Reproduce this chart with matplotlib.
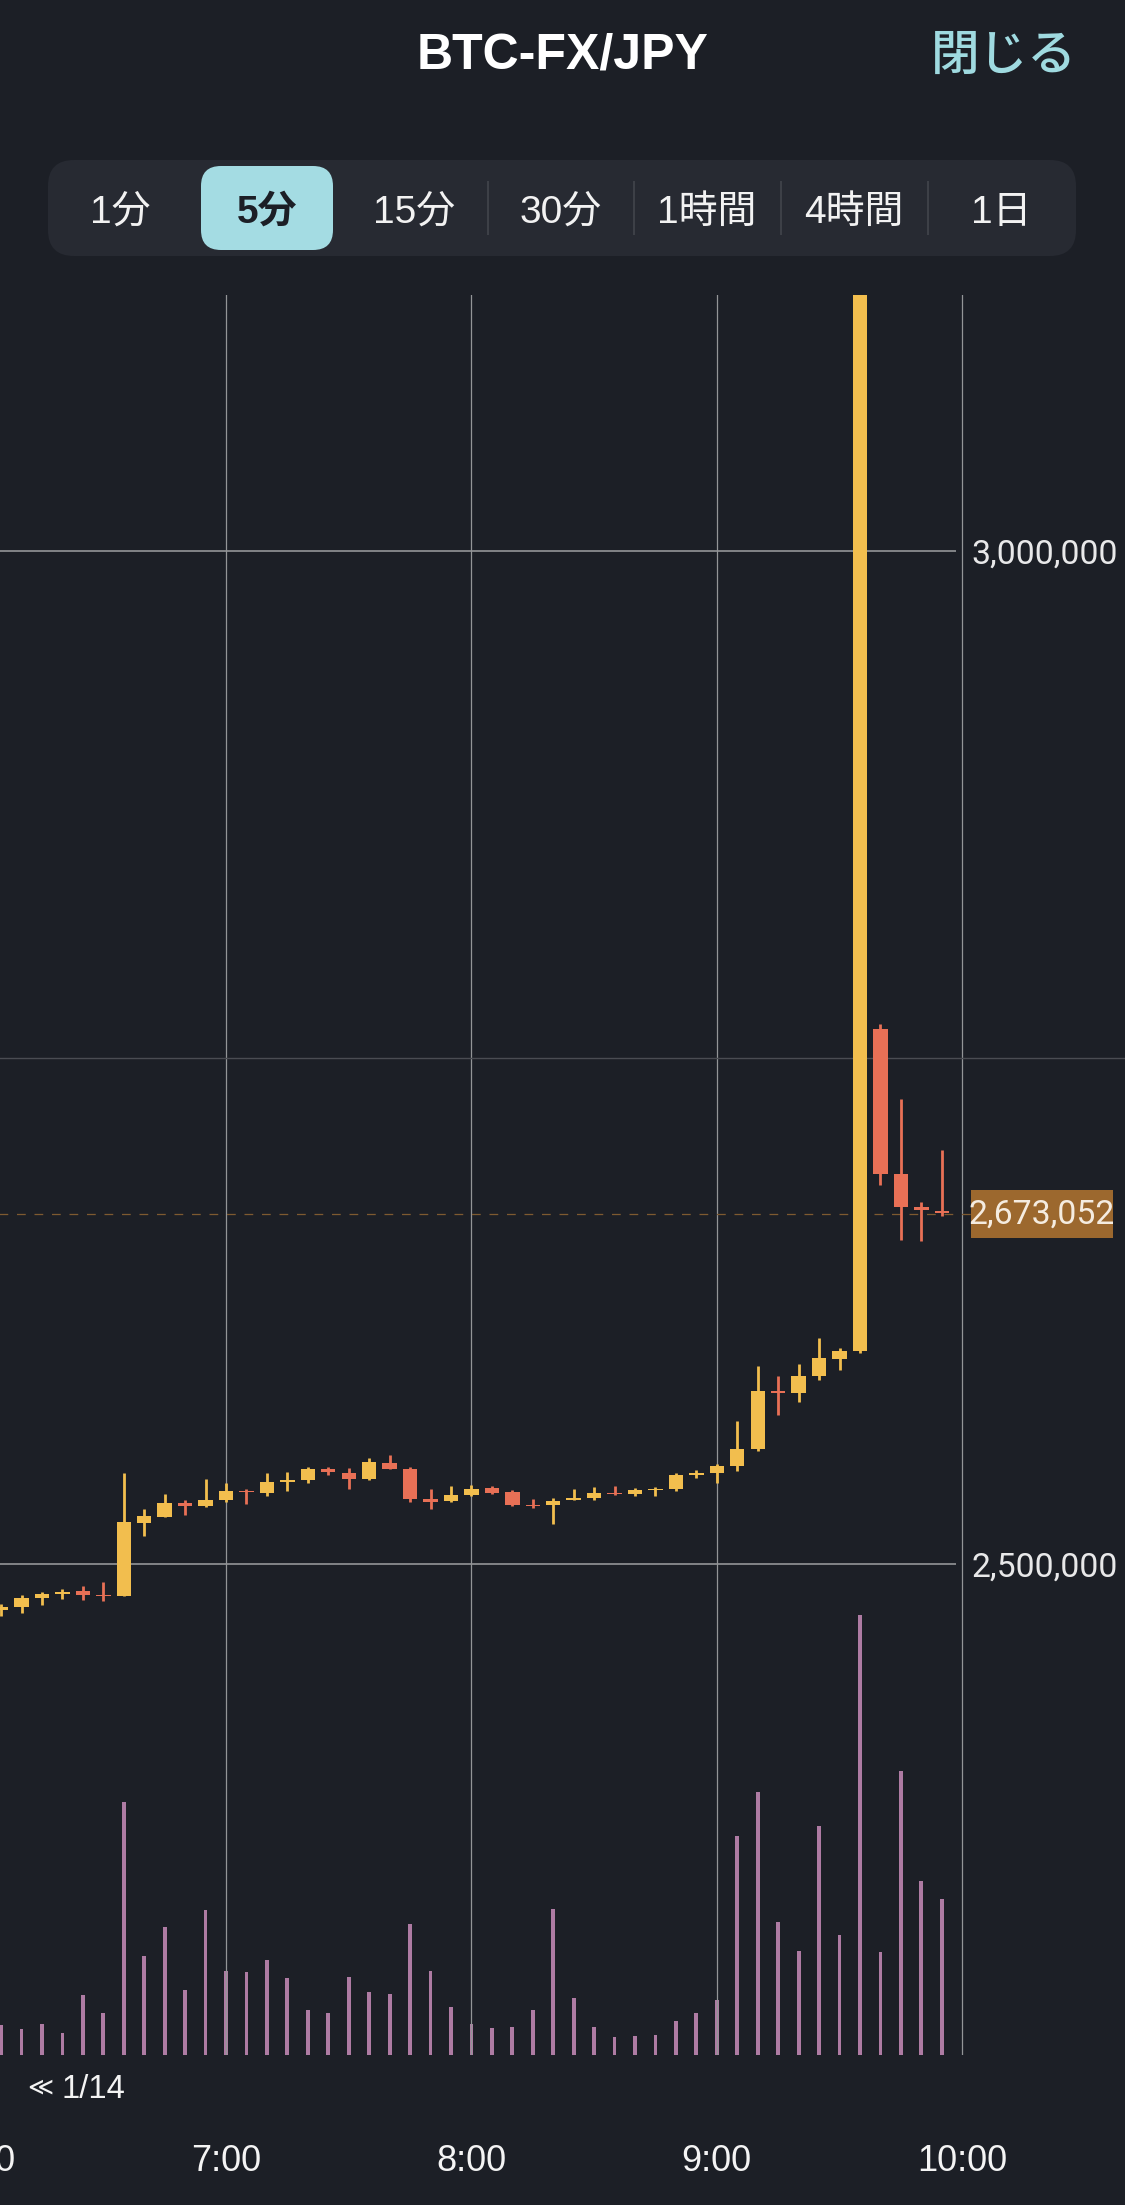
import matplotlib
matplotlib.use("Agg")
import matplotlib.pyplot as plt
from matplotlib.patches import FancyBboxPatch, Rectangle

plt.rcParams['font.family'] = ['Liberation Sans', 'Noto Sans CJK JP', 'DejaVu Sans']

# ---------- data ----------
TITLE = "BTC-FX/JPY"
CLOSE_LABEL = "閉じる"
INTERVALS = ["1分", "5分", "15分", "30分", "1時間", "4時間", "1日"]
SELECTED = 1
DATE_MARK = "≪"
DATE_LABEL = "1/14"
HOUR_TICKS = [360, 420, 480, 540, 600]
HOUR_LABELS = ["6:00", "7:00", "8:00", "9:00", "10:00"]
PRICE_TICKS = [2500000, 3000000]
PRICE_LABELS = ["2,500,000", "3,000,000"]
MID_PRICE = 2750000
LAST_PRICE = 2673052
LAST_LABEL = "2,673,052"

minutes = [365 + 5 * i for i in range(47)]
highs = [2480410, 2484690, 2486010, 2487655, 2489140, 2491110, 2544770, 2527320, 2534570, 2531600,
         2541970, 2539830, 2537030, 2544770, 2545265, 2547730, 2547730, 2547400, 2552510, 2553820,
         2547730, 2536870, 2538350, 2538850, 2538520, 2536710, 2532100, 2532430, 2536870, 2537860,
         2538520, 2537690, 2538020, 2544940, 2546580, 2549380, 2570610, 2597610, 2592670, 2598600,
         2611430, 2606830, 3200000, 2766650, 2729450, 2678920, 2704270]
body_tops = [2478770, 2483375, 2485190, 2486340, 2486500, 2484860, 2520575, 2523700, 2530290, 2530290,
             2531440, 2536050, 2536210, 2540490, 2541480, 2546750, 2546750, 2545100, 2550200, 2549870,
             2546910, 2532260, 2534240, 2537200, 2537360, 2535390, 2529300, 2530950, 2532430, 2534900,
             2534900, 2536540, 2537030, 2544110, 2545100, 2548230, 2556620, 2585590, 2585260, 2592670,
             2601890, 2605010, 3180000, 2764020, 2692420, 2676120, 2674150]
body_bottoms = [2477120, 2478770, 2483375, 2485020, 2484530, 2484360, 2484360, 2520410, 2523370, 2528640,
                2528640, 2531440, 2535390, 2535060, 2540660, 2541480, 2545590, 2541970, 2541970, 2547080,
                2532100, 2530780, 2531110, 2534240, 2535060, 2529300, 2528800, 2529130, 2531770, 2532430,
                2534400, 2534570, 2536710, 2536870, 2543950, 2544940, 2548230, 2556620, 2584600, 2584440,
                2592670, 2601230, 2605010, 2692420, 2676290, 2674640, 2673490]
lows = [2474490, 2475640, 2479750, 2482880, 2482060, 2481565, 2484030, 2513660, 2523040, 2524200,
        2528310, 2530780, 2529630, 2533740, 2536050, 2540160, 2544110, 2537200, 2541640, 2546910,
        2530450, 2527160, 2530450, 2533580, 2534730, 2528640, 2527820, 2519920, 2531440, 2531770,
        2534240, 2533580, 2533740, 2536210, 2542470, 2540160, 2545920, 2555630, 2573740, 2580160,
        2591020, 2595630, 2604190, 2687150, 2660160, 2659500, 2671840]
rising = [1, 1, 1, 1, 0, 0, 1, 1, 1, 0,
          1, 1, 0, 1, 1, 1, 0, 0, 1, 0,
          0, 0, 1, 1, 0, 0, 0, 1, 1, 1,
          0, 1, 1, 1, 1, 1, 1, 1, 0, 1,
          1, 1, 1, 0, 0, 0, 0]
volumes = [29.7, 25.8, 31.3, 22.4, 60.2, 41.7, 252.7, 99.5, 127.7, 65.2,
           145.0, 84.5, 82.6, 95.3, 76.8, 44.8, 41.7, 78.3, 63.3, 61.3,
           130.8, 84.5, 47.8, 31.3, 26.6, 28.2, 45.1, 146.2, 56.7, 27.8,
           18.1, 19.3, 19.7, 34.3, 42.4, 54.8, 218.8, 262.7, 133.5, 103.8,
           229.2, 119.6, 440.2, 103.4, 284.3, 174.4, 156.3]

# ---------- style ----------
BG = "#1C1F26"
UP = "#F2BE4E"
DOWN = "#E87056"
VOL = "#AE7BA3"
GRID = "#939597"
GRID_DIM = "#4A4C52"
W, H = 1125, 2205
PX_PER_MIN = (962.2 - 226.0) / 180.0

fig = plt.figure(figsize=(W / 100, H / 100), dpi=100, facecolor=BG)

# price panel: pixel box x -60..1125, y 295..2055
ax = fig.add_axes([-60 / W, (H - 2055) / H, 1185 / W, 1760 / H], facecolor="none")
ax.set_xlim(420 - (226 + 60) / PX_PER_MIN, 420 + (1125 - 226) / PX_PER_MIN)
ax.set_ylim(2257550, 3126650)
for s in ax.spines.values():
    s.set_visible(False)

vol = ax.twinx()
vol.set_ylim(0, 1760)
vol.axis("off")
vol.patch.set_visible(False)

ax.set_zorder(2)
vol.set_zorder(1)

ax.set_xticks(HOUR_TICKS, HOUR_LABELS)
ax.tick_params(axis="x", length=0, pad=64, labelsize=26, labelcolor="#F4F4F4")
ax.xaxis.grid(True, color=GRID, lw=0.9, zorder=0)
ax.set_axisbelow(True)

ax.yaxis.tick_right()
ax.set_yticks(PRICE_TICKS, PRICE_LABELS)
ax.tick_params(axis="y", length=0, pad=-110.5, labelsize=24.3, labelcolor="white")
for t in ax.get_yticklabels():
    t.set_family("Roboto")
    t.set_fontweight("normal")
    t.set_alpha(0.9)

x_end = 420 + (956 - 226) / PX_PER_MIN
x_left = ax.get_xlim()[0]
ax.hlines(PRICE_TICKS, x_left, x_end, color=GRID, lw=1.2, zorder=1)
ax.hlines(MID_PRICE, x_left, ax.get_xlim()[1], color=GRID_DIM, lw=1.0, zorder=1)
ax.hlines(LAST_PRICE, x_left, 420 + (971 - 226) / PX_PER_MIN, color="#7E5A30", lw=0.9,
          linestyles=(0, (7, 7)), zorder=1)

vol.bar(minutes, volumes, width=3.8 / PX_PER_MIN, color=VOL, lw=0)

colors = [UP if r else DOWN for r in rising]
ax.vlines(minutes, lows, highs, colors=colors, lw=2.0, zorder=3)
ax.bar(minutes, [t - b for t, b in zip(body_tops, body_bottoms)], bottom=body_bottoms,
       width=14.4 / PX_PER_MIN, color=colors, lw=0, zorder=3)

# ---------- screen overlay in pixels ----------
ui = fig.add_axes([0, 0, 1, 1], facecolor="none")
ui.set_xlim(0, W)
ui.set_ylim(H, 0)
ui.axis("off")
ui.set_zorder(5)

ui.text(563, 55, TITLE, ha="center", va="center", fontsize=36, color="white", fontweight="bold")
ui.text(1004, 56, CLOSE_LABEL, ha="center", va="center", fontsize=35, color="#9FDAE0",
        family=['Noto Sans CJK JP'], fontweight="medium")

ui.add_patch(FancyBboxPatch((48, 160), 1028, 96, boxstyle="round,pad=0,rounding_size=26",
                            fc="#272A32", ec="none"))
ui.add_patch(FancyBboxPatch((201, 166), 132, 84, boxstyle="round,pad=0,rounding_size=20",
                            fc="#A4DCE3", ec="none"))
for sx in [488, 634, 781, 928]:
    ui.add_patch(Rectangle((sx - 0.75, 181), 1.5, 54, fc="#3D4047", ec="none"))
for cx, lab, i in zip([120, 267, 414, 561, 707, 854, 1001], INTERVALS, range(7)):
    sel = i == SELECTED
    ui.text(cx, 212.5, lab, ha="center", va="center", fontsize=28,
            color="#1C1F26" if sel else "#F2F2F2", fontweight="bold" if sel else "normal",
            family=['Liberation Sans', 'Noto Sans CJK JP'])

ui.add_patch(Rectangle((971, 1190), 142, 48, fc="#9C682E", ec="none"))
ui.text(1042, 1215, LAST_LABEL, ha="center", va="center", fontsize=24.3, color="#F5ECE0",
        family="Roboto", fontweight="normal")

ui.text(27, 2088, DATE_MARK, ha="left", va="center", fontsize=18, color="#F4F4F4",
        family=['DejaVu Sans'])
ui.text(61, 2089, DATE_LABEL, ha="left", va="center", fontsize=23.5, color="#F4F4F4")

fig.savefig("out.png", dpi=100, facecolor=BG)
